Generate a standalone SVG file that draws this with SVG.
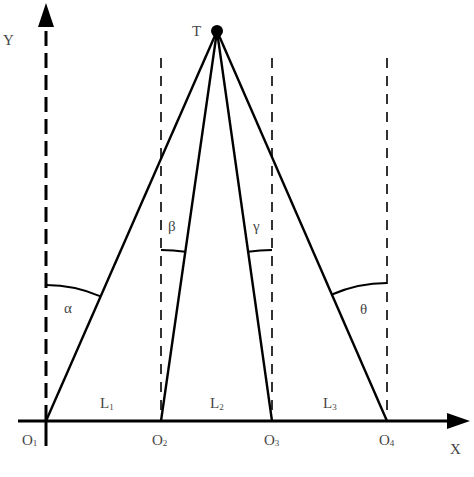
<svg xmlns="http://www.w3.org/2000/svg" width="474" height="477" viewBox="0 0 474 477">
<defs>
<style>
.lbl{font-family:"Liberation Serif",serif;font-size:15px;fill:#444}
.sub{font-size:9px}
.ax{stroke:#000;stroke-width:3;fill:none}
.ref{stroke:#000;stroke-width:1.6;stroke-dasharray:10 8;fill:none}
.ray{stroke:#000;stroke-width:2.4;fill:none}
.arc{stroke:#000;stroke-width:2;fill:none}
</style>
</defs>
<rect width="474" height="477" fill="#fff"/>
<g id="axes">
<line class="ax" x1="46" y1="420" x2="46" y2="26" stroke-dasharray="15 7"/>
<polygon points="46,3 38,27 54,27" fill="#000"/>
<line class="ax" x1="18" y1="421" x2="449" y2="421"/>
<polygon points="470,421 447,413 447,429" fill="#000"/>
<line class="ax" x1="46" y1="421" x2="46" y2="446"/>
</g>
<g id="connectors">
<line class="ref" x1="161" y1="58" x2="161" y2="413"/>
<line class="ref" x1="272" y1="58" x2="272" y2="413"/>
<line class="ref" x1="387" y1="58" x2="387" y2="413"/>
<line class="ray" x1="217" y1="31" x2="46" y2="421"/>
<line class="ray" x1="217" y1="31" x2="161" y2="421"/>
<line class="ray" x1="217" y1="31" x2="272" y2="421"/>
<line class="ray" x1="217" y1="31" x2="387" y2="421"/>
<path class="arc" d="M46,285 A136,136 0 0 1 100.6,296.4"/>
<path class="arc" d="M161,250 A171,171 0 0 1 185.3,251.7"/>
<path class="arc" d="M272,250 A171,171 0 0 0 248.1,251.7"/>
<path class="arc" d="M387,283 A138,138 0 0 0 331.9,294.5"/>
</g>
<g id="T">
<circle cx="217" cy="31" r="6" fill="#000"/>
<text class="lbl" x="192" y="36">T</text>
</g>
<g id="labels">
<text class="lbl" x="3" y="45">Y</text>
<text class="lbl" x="450" y="454">X</text>
<text class="lbl" x="64" y="313">α</text>
<text class="lbl" x="168" y="231">β</text>
<text class="lbl" x="253" y="231">γ</text>
<text class="lbl" x="360" y="314">θ</text>
<text class="lbl" x="100" y="408">L<tspan class="sub" dy="2">1</tspan></text>
<text class="lbl" x="210" y="408">L<tspan class="sub" dy="2">2</tspan></text>
<text class="lbl" x="323" y="408">L<tspan class="sub" dy="2">3</tspan></text>
</g>
<g id="O1"><text class="lbl" x="22" y="445">O<tspan class="sub" dy="1">1</tspan></text></g>
<g id="O2"><text class="lbl" x="152" y="445">O<tspan class="sub" dy="1">2</tspan></text></g>
<g id="O3"><text class="lbl" x="264" y="445">O<tspan class="sub" dy="1">3</tspan></text></g>
<g id="O4"><text class="lbl" x="379" y="445">O<tspan class="sub" dy="1">4</tspan></text></g>
</svg>
